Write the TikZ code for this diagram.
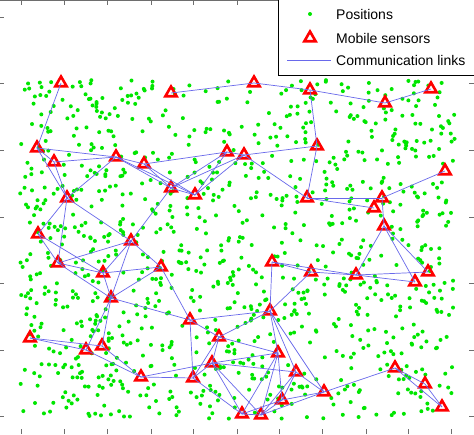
\documentclass[tikz,border=0pt]{standalone}
\usepackage{fontspec}
\setmainfont{Liberation Sans}
\usetikzlibrary{shapes.geometric}
\definecolor{dotgreen}{RGB}{0,230,0}
\definecolor{linkblue}{RGB}{105,105,235}
\definecolor{axgray}{RGB}{110,110,110}
\tikzset{
  sensor/.style={regular polygon, regular polygon sides=3, draw=red, line width=2.6pt, minimum size=13pt, inner sep=0pt, outer sep=0pt},
  link/.style={draw=linkblue, line width=0.7pt},
  tick/.style={draw=axgray, line width=0.8pt},
  legtext/.style={anchor=west, inner sep=0pt, font=\fontsize{14}{16}\selectfont}
}
\begin{document}
\begin{tikzpicture}[x=1pt,y=-1pt]
\useasboundingbox (0,0) rectangle (474,434);
\fill[white] (0,0) rectangle (474,434);
% axis frame and ticks
\draw[draw=axgray, line width=1.2pt] (0,0.8) -- (280,0.8);
\foreach \x in {21,64,107,151,193,237} \draw[tick] (\x,0) -- (\x,5);
\foreach \x in {21,64,107,151,193,237,279,322,366,408,451} \draw[tick] (\x,434) -- (\x,429);
\foreach \y in {17,83,150,217,283,350,416} \draw[tick] (0,\y) -- (4,\y);
\foreach \y in {83,150,217,283,350,416} \draw[tick] (474,\y) -- (469,\y);
% positions
\pgfmathsetseed{4242}
\foreach \i in {1,...,1050}{
  \pgfmathsetmacro{\px}{20+435*rnd}
  \pgfmathsetmacro{\py}{80+339*rnd}
  \fill[dotgreen] (\px,\py) circle (2pt);
}
% sensors
\node[sensor] (t1) at (61,83) {};
\node[sensor] (t2) at (171,93) {};
\node[sensor] (t3) at (254,83) {};
\node[sensor] (t4) at (310,90) {};
\node[sensor] (t5) at (385,103) {};
\node[sensor] (t6) at (431,89) {};
\node[sensor] (t7) at (37,148) {};
\node[sensor] (t8) at (54,162) {};
\node[sensor] (t9) at (116,157) {};
\node[sensor] (t10) at (144,164) {};
\node[sensor] (t11) at (227,152) {};
\node[sensor] (t12) at (244,155) {};
\node[sensor] (t13) at (317,146) {};
\node[sensor] (t14) at (171,188) {};
\node[sensor] (t15) at (195,195) {};
\node[sensor] (t16) at (67,198) {};
\node[sensor] (t17) at (307,198) {};
\node[sensor] (t18) at (382,198) {};
\node[sensor] (t19) at (374,208) {};
\node[sensor] (t20) at (445,171) {};
\node[sensor] (t21) at (38,234) {};
\node[sensor] (t22) at (131,241) {};
\node[sensor] (t23) at (58,263) {};
\node[sensor] (t24) at (103,273) {};
\node[sensor] (t25) at (161,267) {};
\node[sensor] (t26) at (272,262) {};
\node[sensor] (t27) at (311,272) {};
\node[sensor] (t28) at (356,275) {};
\node[sensor] (t29) at (384,226) {};
\node[sensor] (t30) at (415,282) {};
\node[sensor] (t31) at (428,272) {};
\node[sensor] (t32) at (111,298) {};
\node[sensor] (t33) at (190,320) {};
\node[sensor] (t34) at (219,337) {};
\node[sensor] (t35) at (270,311) {};
\node[sensor] (t36) at (30,338) {};
\node[sensor] (t37) at (86,350) {};
\node[sensor] (t38) at (102,346) {};
\node[sensor] (t39) at (141,377) {};
\node[sensor] (t40) at (212,363) {};
\node[sensor] (t41) at (193,378) {};
\node[sensor] (t42) at (278,353) {};
\node[sensor] (t43) at (296,372) {};
\node[sensor] (t44) at (324,392) {};
\node[sensor] (t45) at (282,400) {};
\node[sensor] (t46) at (242,414) {};
\node[sensor] (t47) at (261,415) {};
\node[sensor] (t48) at (395,368) {};
\node[sensor] (t49) at (425,384) {};
\node[sensor] (t50) at (442,407) {};
% links
\foreach \a/\b in {t1/t7,t7/t8,t7/t9,t7/t16,t8/t9,t8/t16,t9/t10,t9/t14,t9/t15,t9/t16,
  t10/t14,t10/t15,t10/t11,t14/t11,t14/t12,t15/t11,t15/t12,t14/t15,t11/t12,t12/t13,t12/t17,
  t2/t3,t3/t4,t4/t5,t5/t6,t4/t13,t13/t17,t17/t18,t17/t19,t18/t20,t18/t29,
  t29/t28,t29/t30,t29/t31,t26/t27,t26/t28,t27/t28,t28/t30,t28/t31,t26/t35,t27/t35,t33/t35,
  t16/t21,t16/t23,t16/t22,t22/t14,t21/t23,t21/t24,t22/t23,t22/t24,t22/t25,t22/t32,
  t23/t24,t23/t32,t24/t25,t24/t32,t25/t32,t25/t33,t32/t33,t32/t37,t32/t38,
  t36/t37,t36/t38,t37/t39,t38/t39,t39/t40,t39/t41,
  t33/t34,t33/t41,t34/t35,t34/t42,t34/t40,t34/t41,t40/t41,t40/t42,t40/t43,t40/t46,t40/t47,
  t41/t46,t35/t42,t35/t43,t35/t44,t42/t45,t42/t46,t42/t47,t43/t45,t43/t47,t43/t44,
  t44/t45,t44/t47,t45/t46,t45/t47,t46/t47,t44/t48,t48/t49,t48/t50,t49/t50}
  \draw[link] (\a.center) -- (\b.center);
% legend
\draw[fill=white, draw=black, line width=0.7pt] (278,-2) rectangle (476,75);
\fill[dotgreen] (310,14) circle (2pt);
\node[legtext] (lp) at (336,14) {Positions};
\node[sensor] (ls) at (310,38) {};
\node[legtext] (lm) at (336,38) {Mobile sensors};
\coordinate (la) at (287,60);
\coordinate (lb) at (331,60);
\draw[link] (la) -- (lb);
\node[legtext] (lc) at (336,60) {Communication links};
\end{tikzpicture}
\end{document}
